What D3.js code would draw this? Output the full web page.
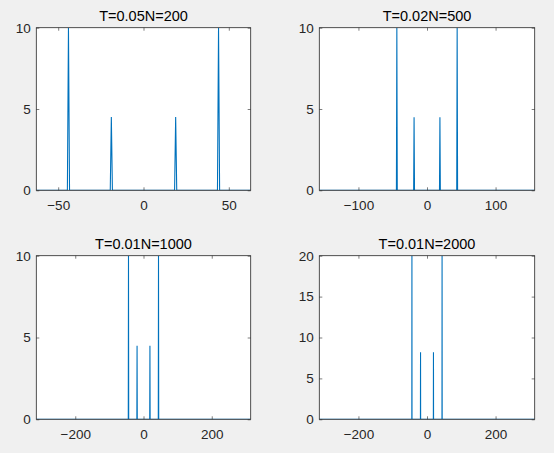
<!DOCTYPE html>
<html>
<head>
<meta charset="utf-8">
<script src="https://cdn.jsdelivr.net/npm/d3@7"></script>
<style>
  body { margin: 0; background: #f0f0f0; }
  svg { display: block; font-family: "Liberation Sans", Arial, sans-serif; }
</style>
</head>
<body>
<svg id="fig" width="554" height="453"></svg>
<script>
// subplot titles, axis limits and ticks
var titles = ["T=0.05N=200", "T=0.02N=500", "T=0.01N=1000", "T=0.01N=2000"];
var xLimits = [62.83, 157.08, 314.16, 314.16];
var yLimits = [10, 10, 10, 20];
var xTicks = [[-50, 0, 50], [-100, 0, 100], [-200, 0, 200], [-200, 0, 200]];
var yTicks = [[0, 5, 10], [0, 5, 10], [0, 5, 10], [0, 5, 10, 15, 20]];

// spectrum samples [omega, |X|] (zero elsewhere)
var spec1 = [[-62.83, 0], [-44.61, 0], [-43.98, 10], [-43.35, 0], [-19.48, 0], [-18.85, 4.5], [-18.22, 0],
             [18.22, 0], [18.85, 4.5], [19.48, 0], [43.35, 0], [43.98, 10], [44.61, 0], [62.83, 0]];
var spec2 = [[-157.08, 0], [-44.61, 0], [-43.98, 10], [-43.35, 0], [-19.48, 0], [-18.85, 4.5], [-18.22, 0],
             [18.22, 0], [18.85, 4.5], [19.48, 0], [43.35, 0], [43.98, 10], [44.61, 0], [157.08, 0]];
var spec3 = [[-314.16, 0], [-44.61, 0], [-43.98, 10], [-43.35, 0], [-19.48, 0], [-18.85, 4.5], [-18.22, 0],
             [18.22, 0], [18.85, 4.5], [19.48, 0], [43.35, 0], [43.98, 10], [44.61, 0], [314.16, 0]];
var spec4 = [[-314.16, 0], [-44.3, 0], [-43.98, 20], [-43.67, 0], [-19.16, 0], [-18.85, 8.2], [-18.54, 0],
             [18.54, 0], [18.85, 8.2], [19.16, 0], [43.67, 0], [43.98, 20], [44.3, 0], [314.16, 0]];
var spectra = [spec1, spec2, spec3, spec4];

var boxes = [
  {x: 36.3, y: 27.7, w: 214.4, h: 162.6},
  {x: 319.3, y: 27.7, w: 215.4, h: 162.6},
  {x: 36.3, y: 255.7, w: 214.4, h: 163.6},
  {x: 319.3, y: 255.7, w: 215.4, h: 163.6}
];

var svg = d3.select("#fig");

boxes.forEach(function(b, i) {
  var x = d3.scaleLinear().domain([-xLimits[i], xLimits[i]]).range([0, b.w]);
  var y = d3.scaleLinear().domain([0, yLimits[i]]).range([b.h, 0]);

  var g = svg.append("g").attr("transform", "translate(" + b.x + "," + b.y + ")");

  g.append("rect").attr("width", b.w).attr("height", b.h).attr("fill", "#fff");

  g.append("clipPath").attr("id", "clip" + i)
    .append("rect").attr("width", b.w).attr("height", b.h);

  var line = d3.line().x(function(d) { return x(d[0]); }).y(function(d) { return y(d[1]); });
  g.append("path")
    .datum(spectra[i])
    .attr("clip-path", "url(#clip" + i + ")")
    .attr("fill", "none")
    .attr("stroke", "#0072bd")
    .attr("stroke-width", 1.1)
    .attr("d", line);

  var bottom = g.append("g").attr("transform", "translate(0," + b.h + ")")
    .call(d3.axisBottom(x).tickValues(xTicks[i]).tickSize(-3).tickPadding(10));
  var top = g.append("g")
    .call(d3.axisTop(x).tickValues(xTicks[i]).tickSize(-3).tickFormat(""));
  var left = g.append("g")
    .call(d3.axisLeft(y).tickValues(yTicks[i]).tickSize(-3).tickPadding(5.5));
  var right = g.append("g").attr("transform", "translate(" + b.w + ",0)")
    .call(d3.axisRight(y).tickValues(yTicks[i]).tickSize(-3).tickFormat(""));

  [bottom, top, left, right].forEach(function(a) {
    a.select(".domain").remove();
    a.selectAll("line").attr("stroke", "#262626").attr("stroke-width", 0.6);
    a.selectAll("text").attr("fill", "#262626").style("font-size", "13.5px")
      .style("font-family", "'Liberation Sans', Arial, sans-serif");
  });

  g.append("rect").attr("width", b.w).attr("height", b.h)
    .attr("fill", "none").attr("stroke", "#262626").attr("stroke-width", 0.8);

  g.append("text")
    .attr("x", b.w / 2).attr("y", -6.5)
    .attr("text-anchor", "middle")
    .attr("fill", "#000")
    .style("font-size", "14.5px")
    .text(titles[i]);
});
</script>
</body>
</html>
